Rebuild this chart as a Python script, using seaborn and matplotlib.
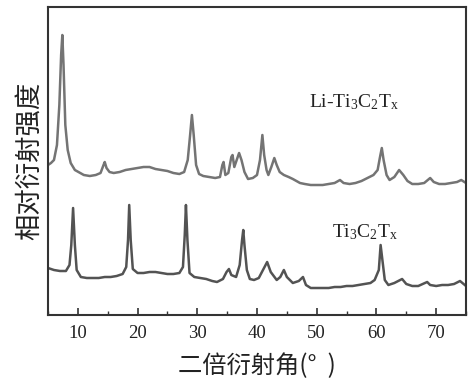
import matplotlib
matplotlib.use("Agg")
import matplotlib.pyplot as plt
import seaborn as sns
import pandas as pd
from matplotlib.ticker import MultipleLocator

# ---- data (2θ in degrees, intensity in arbitrary units) ----
li_two_theta = [5.0, 5.5, 6.0, 6.5, 6.9, 7.2, 7.4, 7.6, 7.9, 8.3, 8.8, 9.5, 10.4, 11.0, 12.0, 13.0,
                13.8, 14.3, 14.5, 14.8, 15.3, 16, 17, 18, 19, 20, 21, 22, 23, 24, 25, 26, 27, 27.8,
                28.4, 28.8, 29.1, 29.4, 29.8, 30.3, 31, 32, 33, 33.8, 34.2, 34.4, 34.7, 35.2, 35.7,
                35.9, 36.2, 36.6, 37.0, 37.4, 37.9, 38.5, 39.3, 40.0, 40.5, 40.9, 41.2, 41.6, 41.9,
                42.4, 42.9, 43.3, 43.8, 44.5, 45.3, 46, 47.2, 48, 49, 50, 51, 52, 53, 53.9, 54.5,
                55.5, 56.5, 57.5, 58.5, 59.5, 60.2, 60.6, 60.9, 61.2, 61.7, 62.2, 63.0, 63.8, 64.5,
                65.2, 66, 67, 68, 69, 69.6, 70.5, 71.5, 72.5, 73.5, 74.2, 75]
li_intensity = [150, 152, 155, 170, 210, 260, 280, 250, 190, 165, 152, 145, 142, 140, 139, 140,
                142, 150, 153, 147, 143, 142, 143, 145, 146, 147, 148, 148, 146, 145, 144, 142, 141, 143,
                155, 180, 200, 180, 150, 141, 139, 138, 137, 138, 150, 153, 140, 142, 158,
                160, 148, 155, 162, 155, 143, 136, 137, 140, 155, 180, 160, 145, 140,
                148, 157, 150, 143, 140, 138, 136, 132, 131, 130, 130, 130, 131, 132, 135, 132,
                131, 132, 134, 137, 140, 145, 158, 167, 155, 140, 135, 138, 145, 140,
                134, 131, 131, 132, 137, 133, 131, 131, 132, 133, 135, 132]

ti_two_theta = [5.0, 6, 7, 8, 8.6, 8.9, 9.2, 9.5, 9.8, 10.5, 11.5, 12.5, 13.5, 14.5, 15.5, 16.5,
                17.5, 18.1, 18.4, 18.6, 18.85, 19.2, 20, 21, 22, 23, 24, 25, 26, 27, 27.6, 27.9, 28.1,
                28.35, 28.7, 29.5, 30.5, 31.5, 32.5, 33.3, 34.3, 34.9, 35.3, 35.7, 36.5, 37.1, 37.5,
                37.7, 37.9, 38.3, 38.8, 39.5, 40.3, 41.0, 41.7, 42.3, 43.3, 43.9, 44.5, 45.0, 46,
                47.0, 47.7, 48.2, 49, 50, 51, 52, 53, 54, 55, 56, 57, 58, 59, 59.7, 60.4, 60.7,
                61.0, 61.4, 62, 63, 64.3, 65, 66, 67, 68.5, 69, 70, 71, 72, 73, 74, 75]
ti_intensity = [47, 45, 44, 44, 50, 70, 107, 70, 45, 38, 37, 37, 37, 38, 38, 39,
                41, 48, 75, 110, 75, 46, 42, 42, 43, 43, 42, 41, 41, 42, 48, 80, 110,
                75, 42, 38, 37, 36, 34, 33, 36, 43, 46, 40, 38, 50, 75,
                85, 70, 45, 36, 35, 37, 45, 53, 43, 35, 38, 45, 38, 32,
                34, 38, 30, 27, 27, 27, 27, 28, 28, 29, 29, 30, 31, 32, 35, 45, 70,
                55, 35, 30, 32, 36, 31, 29, 29, 33, 30, 29, 30, 30, 31, 34, 29]

x_ticks = [10, 20, 30, 40, 50, 60, 70]
label_li = r"Li-Ti$_\mathrm{3}$C$_\mathrm{2}$T$_\mathrm{x}$"
label_ti = r"Ti$_\mathrm{3}$C$_\mathrm{2}$T$_\mathrm{x}$"
label_li_pos = (56.3, 213)
label_ti_pos = (58.1, 83)
x_title = "二倍衍射角(°  )"
y_title = "相对衍射强度"

sns.set_theme(style="ticks")
plt.rcParams["font.family"] = ["Liberation Serif", "Noto Sans CJK SC", "DejaVu Sans"]
plt.rcParams["mathtext.fontset"] = "custom"
plt.rcParams["mathtext.rm"] = "Liberation Serif"
plt.rcParams["mathtext.it"] = "Liberation Serif:italic"

df_li = pd.DataFrame({"two_theta": li_two_theta, "intensity": li_intensity})
df_ti = pd.DataFrame({"two_theta": ti_two_theta, "intensity": ti_intensity})

fig = plt.figure(figsize=(4.74, 3.84), dpi=100)
ax = fig.add_axes([48 / 474, 1 - 315 / 384, (466 - 48) / 474, (315 - 7) / 384])

sns.lineplot(data=df_li, x="two_theta", y="intensity", ax=ax, color="#747474", linewidth=1.8)
sns.lineplot(data=df_ti, x="two_theta", y="intensity", ax=ax, color="#535353", linewidth=1.8)

ax.set_xlim(5, 75)
ax.set_ylim(0, 308)
ax.set_xticks(x_ticks)
ax.set_xticklabels([str(t) for t in x_ticks])
ax.xaxis.set_minor_locator(MultipleLocator(5))
ax.tick_params(axis="x", which="major", direction="in", length=5, width=1.2, color="#333333",
               pad=7, labelsize=13.5, labelcolor="#222222", labelbottom=True, bottom=True)
ax.tick_params(axis="x", which="minor", direction="in", length=3, width=1.0, color="#333333")
ax.set_yticks([])
for s in ax.spines.values():
    s.set_visible(True)
    s.set_color("#333333")
    s.set_linewidth(1.5)

ax.set_xlabel(x_title, fontsize=17.5, family=["Noto Sans CJK SC", "DejaVu Sans"], labelpad=8, color="#222222")
ax.set_ylabel(y_title, fontsize=19, family=["Noto Sans CJK SC", "DejaVu Sans"], labelpad=4, color="#222222")

ax.text(*label_li_pos, label_li, fontsize=14, ha="center", va="center", color="#222222")
ax.text(*label_ti_pos, label_ti, fontsize=14, ha="center", va="center", color="#222222")

fig.savefig("out.png", dpi=100)
